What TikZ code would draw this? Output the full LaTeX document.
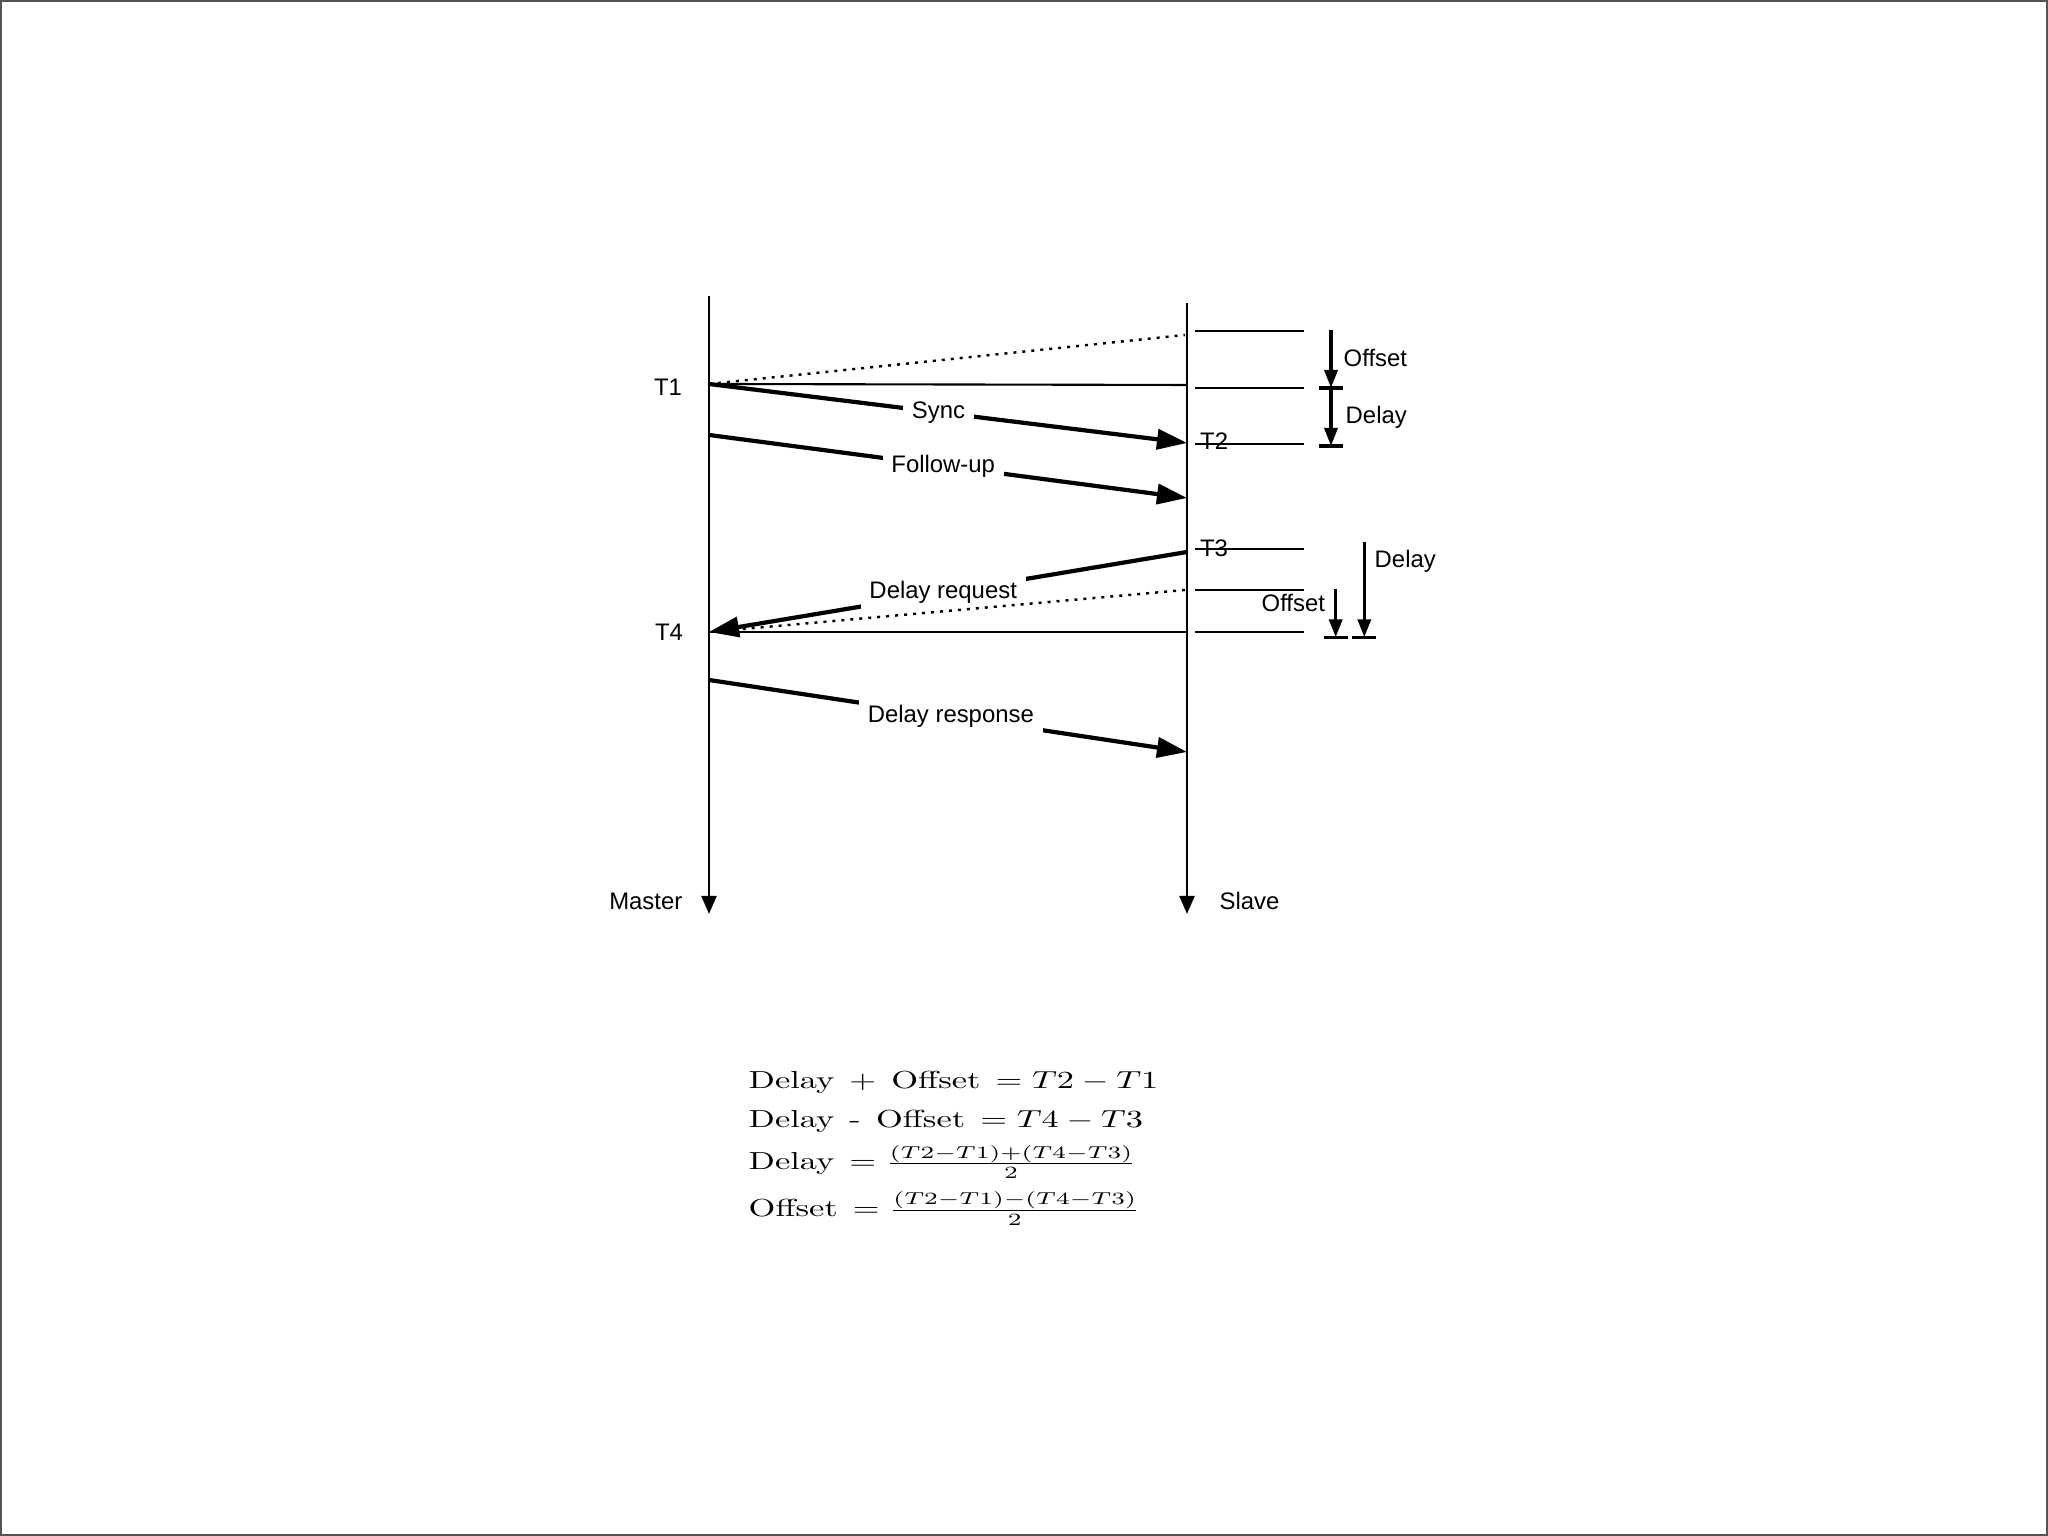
\documentclass[tikz,border=0pt]{standalone}
\usepackage{fontspec}
\usetikzlibrary{arrows.meta}
\newfontfamily\sansfig{Liberation Sans}
\newcommand{\eqtext}[1]{\scalebox{0.98}[0.70]{\fontsize{10}{12}\selectfont\spaceskip=4.4pt #1}}
\tikzset{
  lbl/.style={font=\sansfig\fontsize{6.8}{8}\selectfont, inner sep=0pt}
}
\begin{document}
\begin{tikzpicture}[
    lifeline/.style={line width=0.6pt, -{Triangle[length=1.8mm,width=1.5mm]}},
    msg/.style={line width=1.2pt, -{Triangle[length=3mm,width=2mm]}},
    tline/.style={line width=0.6pt},
    dotline/.style={line width=0.7pt, dash pattern=on 0.3mm off 0.6mm},
    gap/.style={lbl, fill=white, inner sep=2.5pt},
    span/.style={line width=1pt, -{Triangle[length=1.8mm,width=1.3mm]}},
    tick/.style={line width=1pt},
    eqline/.style={anchor=base west, inner sep=0pt}
  ]
    \useasboundingbox (0,0) rectangle (20.48,15.36);
    \draw[black!67, line width=0.02cm] (0.01,0.01) rectangle (20.47,15.35);

    % lifelines
    \coordinate (mtop) at (7.09,12.40);
    \coordinate (mend) at (7.09,6.22);
    \coordinate (stop) at (11.87,12.33);
    \coordinate (send) at (11.87,6.22);
    \draw[lifeline] (mtop) -- (mend);
    \draw[lifeline] (stop) -- (send);
    \node[lbl, anchor=east] (master) at (6.83,6.35) {Master};
    \node[lbl, anchor=west] (slave) at (12.19,6.35) {Slave};

    % time stamps
    \coordinate (t1) at (7.09,11.52);
    \coordinate (t1s) at (11.87,11.51);
    \coordinate (t1d) at (11.85,12.01);
    \coordinate (t2) at (11.87,10.93);
    \coordinate (fu) at (7.09,11.01);
    \coordinate (fus) at (11.87,10.38);
    \coordinate (t3) at (11.87,9.84);
    \coordinate (t3d) at (11.85,9.46);
    \coordinate (t4) at (7.09,9.04);
    \coordinate (t4s) at (11.87,9.04);
    \coordinate (dr) at (7.09,8.56);
    \coordinate (drs) at (11.87,7.84);
    \node[lbl] (T1) at (6.68,11.49) {T1};
    \node[lbl] (T4) at (6.69,9.04) {T4};
    \node[lbl, anchor=west] (T2) at (11.995,10.945) {T2};
    \node[lbl, anchor=west] (T3) at (11.993,9.877) {T3};

    \draw[tline] (t1) -- (t1s);
    \draw[tline] (t4) -- (t4s);

    % messages
    \draw[msg] (t1) -- node[gap, pos=0.48] (sync) {Sync} (t2);
    \draw[msg] (fu) -- node[gap, pos=0.49] (follow) {Follow-up} (fus);
    \draw[msg] (t3) -- node[gap, pos=0.51] (req) {Delay request} (t4);
    \draw[msg] (dr) -- node[gap, pos=0.506] (resp) {Delay response} (drs);

    \draw[dotline] (t1) -- (t1d);
    \draw[dotline] (t3d) -- (t4);

    % clock marks on the slave side
    \foreach \y in {12.053,11.483,10.92,9.87,9.457,9.043}
      \draw[tline] (11.95,\y) -- (13.04,\y);

    % offset and delay
    \coordinate (o1a) at (13.31,12.06);
    \coordinate (o1b) at (13.31,11.48);
    \coordinate (d1b) at (13.31,10.90);
    \draw[span] (o1a) -- (o1b);
    \draw[span] (o1b) -- (d1b);
    \draw[tick] ([xshift=-0.12cm]o1b) -- ([xshift=0.12cm]o1b);
    \draw[tick] ([xshift=-0.12cm]d1b) -- ([xshift=0.12cm]d1b);
    \node[lbl, anchor=west] (off1) at (13.43,11.777) {Offset};
    \node[lbl, anchor=west] (del1) at (13.45,11.19) {Delay};

    \coordinate (o2a) at (13.357,9.467);
    \coordinate (o2b) at (13.357,8.987);
    \coordinate (d2a) at (13.643,9.943);
    \coordinate (d2b) at (13.643,8.987);
    \draw[span] (o2a) -- (o2b);
    \draw[span] (d2a) -- (d2b);
    \draw[tick] ([xshift=-0.12cm]o2b) -- ([xshift=0.12cm]o2b);
    \draw[tick] ([xshift=-0.12cm]d2b) -- ([xshift=0.12cm]d2b);
    \node[lbl, anchor=east] (off2) at (13.257,9.327) {Offset};
    \node[lbl, anchor=west] (del2) at (13.74,9.743) {Delay};

    % equations
    \node[eqline] (eq1) at (7.48,4.477) {\eqtext{Delay $+$ Offset $= T2 - T1$}};
    \node[eqline] (eq2) at (7.48,4.087) {\eqtext{Delay - Offset $= T4 - T3$}};
    \node[eqline] (eq3) at (7.48,3.66) {\eqtext{Delay $= \frac{(T2-T1)+(T4-T3)}{2}$}};
    \node[eqline] (eq4) at (7.48,3.193) {\eqtext{Offset $= \frac{(T2-T1)-(T4-T3)}{2}$}};
\end{tikzpicture}
\end{document}
